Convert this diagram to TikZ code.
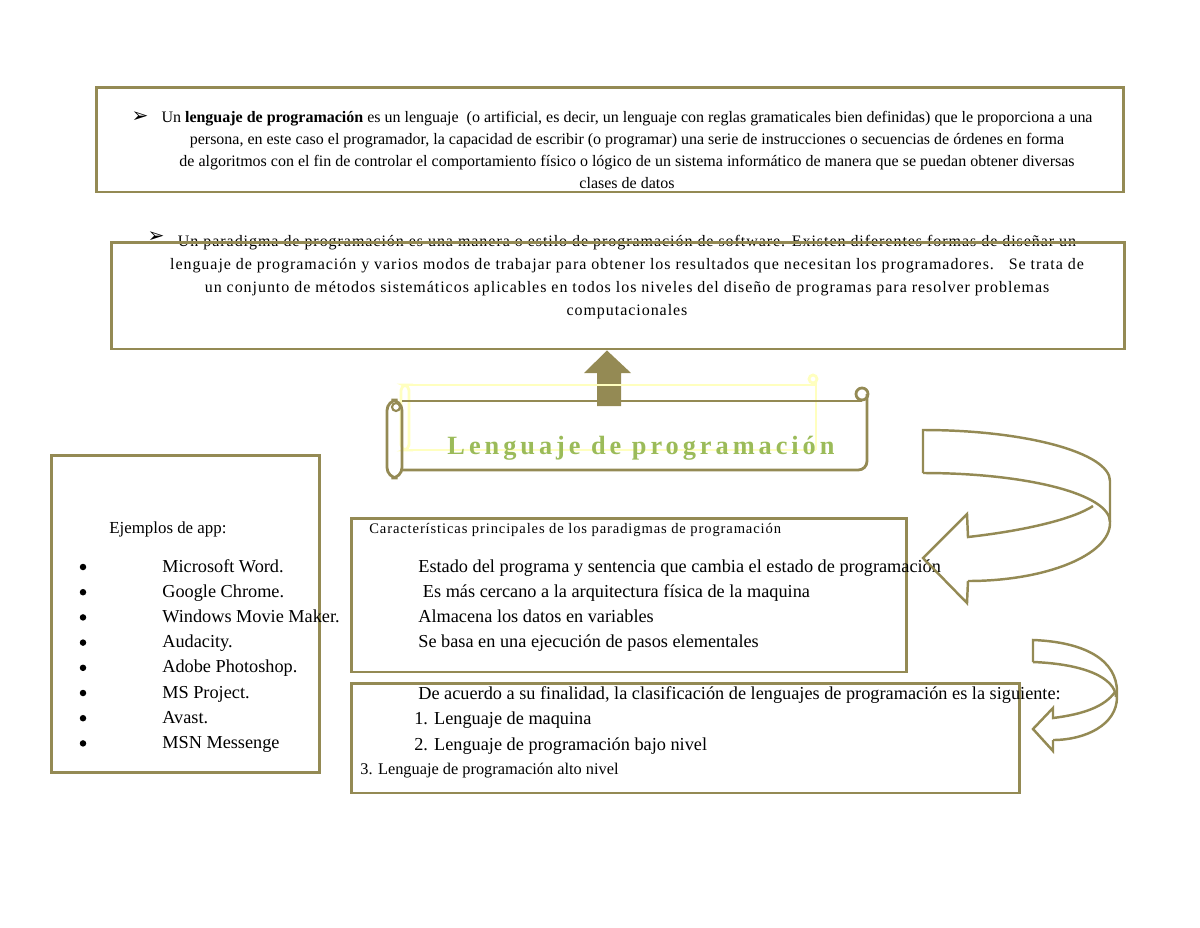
\documentclass[tikz,border=0pt]{standalone}
\usepackage{fontspec}
\setmainfont{Liberation Serif}
\newfontfamily\flechafont{DejaVu Sans}
\newfontfamily\anchafont[LetterSpace=6]{Liberation Serif}
\newfontfamily\titulofont[LetterSpace=15]{Liberation Serif}
\usetikzlibrary{positioning}
\definecolor{oliva}{HTML}{948A54}
\definecolor{verde}{HTML}{9BBB59}
\definecolor{palido}{HTML}{FFFFBF}

\begin{document}
\begin{tikzpicture}[x=0.02cm,y=-0.02cm]
\tikzset{caja/.style={draw=oliva,line width=1.7pt,inner sep=0pt}}
\tikzset{linea/.style={inner sep=0pt,anchor=base west,font=\fontsize{10.4}{12}\selectfont}}
\tikzset{cinta/.style={draw=oliva,line width=1.4pt,line join=miter}}
\useasboundingbox (0,0) rectangle (1200,927);

% definicion
\node[inner sep=0pt,align=center,font=\fontsize{9.1}{12.5}\selectfont] (deftxt) at (627,150)
  {Un \textbf{lenguaje de programación} es un lenguaje\ \ (o artificial, es decir, un lenguaje con reglas gramaticales bien definidas) que le proporciona a una\\
   persona, en este caso el programador, la capacidad de escribir (o programar) una serie de instrucciones o secuencias de órdenes en forma\\
   de algoritmos con el fin de controlar el comportamiento físico o lógico de un sistema informático de manera que se puedan obtener diversas\\
   clases de datos};
\node[inner sep=0pt,font=\flechafont\fontsize{11.5}{11.5}\selectfont] (b1) at (140,117) {➢};
\node[caja,minimum width=20.56cm,minimum height=2.1cm] (def) at (610,139.5) {};

% paradigma
\node[inner sep=0pt,align=center,font=\anchafont\fontsize{9.1}{13.2}\selectfont] (partxt) at (627,277)
  {Un paradigma de programación es una manera o estilo de programación de software. Existen diferentes formas de diseñar un\\
   lenguaje de programación y varios modos de trabajar para obtener los resultados que necesitan los programadores.\ \ \ Se trata de\\
   un conjunto de métodos sistemáticos aplicables en todos los niveles del diseño de programas para resolver problemas\\
   computacionales};
\node[inner sep=0pt,font=\flechafont\fontsize{11.5}{11.5}\selectfont] (b2) at (156,237) {➢};
\node[caja,minimum width=20.28cm,minimum height=2.14cm] (par) at (618,295.5) {};

% flecha hacia arriba
\fill[oliva] (par.south -| 607,0) -- (631,373) -- (621,373) -- (621,406)
  -- (597,406) -- (597,373) -- (584,373) -- cycle;

% pergamino
\draw[palido,line width=1.6pt,rounded corners=3pt] (401,385) rectangle (409,450);
\draw[palido,line width=1.6pt] (409,385) -- (816,385) (409,450) -- (816,450) (816,380) -- (816,450);
\draw[palido,line width=1.6pt] (813,379) circle (4);
\draw[oliva,line width=1.6pt,rounded corners=6pt] (387,400) rectangle (402,478);
\draw[oliva,line width=1.2pt] (396,407) circle (4);
\draw[oliva,line width=1.6pt] (402,401) -- (862,401);
\draw[oliva,line width=1.6pt] (862,394) circle (6);
\draw[oliva,line width=1.6pt,rounded corners=5pt] (867,394) -- (867,470) -- (402,470);
\node[inner sep=0pt,font=\titulofont\bfseries\fontsize{15}{15}\selectfont,text=verde] (titulo) at (641,448) {Lenguaje de programación};

% ejemplos
\node[caja,minimum width=5.38cm,minimum height=6.36cm] (apps) at (185.5,614) {};
\node[linea,font=\fontsize{9.6}{11}\selectfont] (ejtxt) at (109,533) {Ejemplos de app:};
\foreach \app [count=\i from 0] in {Microsoft Word.,Google Chrome.,Windows Movie Maker.,Audacity.,Adobe Photoshop.,MS Project.,Avast.,MSN Messenge}{
  \node[inner sep=0pt,circle,fill=black,minimum size=0.13cm] (p\i) at (83,567+25.2*\i) {};
  \node[linea] (app\i) at (162,572+25.2*\i) {\app};
}

% caracteristicas
\node[caja,minimum width=11.12cm,minimum height=3.08cm] (carac) at (629,595) {};
\node[linea,font=\anchafont\fontsize{8.3}{10}\selectfont] (cartxt) at (369,533) {Características principales de los paradigmas de programación};
\node[linea] (c1) at (418,572) {Estado del programa y sentencia que cambia el estado de programación};
\node[linea] (c2) at (418,597) {\ Es más cercano a la arquitectura física de la maquina};
\node[linea] (c3) at (418,622) {Almacena los datos en variables};
\node[linea] (c4) at (418,647) {Se basa en una ejecución de pasos elementales};

% clasificacion
\node[caja,minimum width=13.38cm,minimum height=2.2cm] (clasif) at (685.5,738) {};
\node[linea] (k0) at (418,699) {De acuerdo a su finalidad, la clasificación de lenguajes de programación es la siguiente:};
\node[linea] (k1) at (414,724) {1. Lenguaje de maquina};
\node[linea] (k2) at (414,750) {2. Lenguaje de programación bajo nivel};
\node[linea,font=\fontsize{9.3}{10}\selectfont] (k3) at (360,774) {3. Lenguaje de programación alto nivel};

% flecha curva grande
\draw[cinta] (968,581) -- (967,603) -- (923,558) -- (967,514) -- (968,537)
  .. controls (1030,530) and (1075,518) .. (1093,506);
\draw[cinta] (923,473) -- (923,430) .. controls (1026,430) and (1110,453) .. (1110,481)
  -- (1110,523) .. controls (1110,555) and (1046,581) .. (968,581);
\draw[cinta] (923,473) .. controls (1026,473) and (1110,494) .. (1110,522);

% flecha curva chica
\draw[cinta] (1053,740) -- (1053,751) -- (1033,729) -- (1053,708) -- (1053,718)
  .. controls (1085,714) and (1105,706) .. (1115,692);
\draw[cinta] (1033,662) -- (1033,640) .. controls (1085,642) and (1117,660) .. (1117,692)
  -- (1117,697) .. controls (1117,725) and (1085,740) .. (1053,740);
\draw[cinta] (1033,662) .. controls (1085,664) and (1115,678) .. (1116,697);
\end{tikzpicture}
\end{document}
